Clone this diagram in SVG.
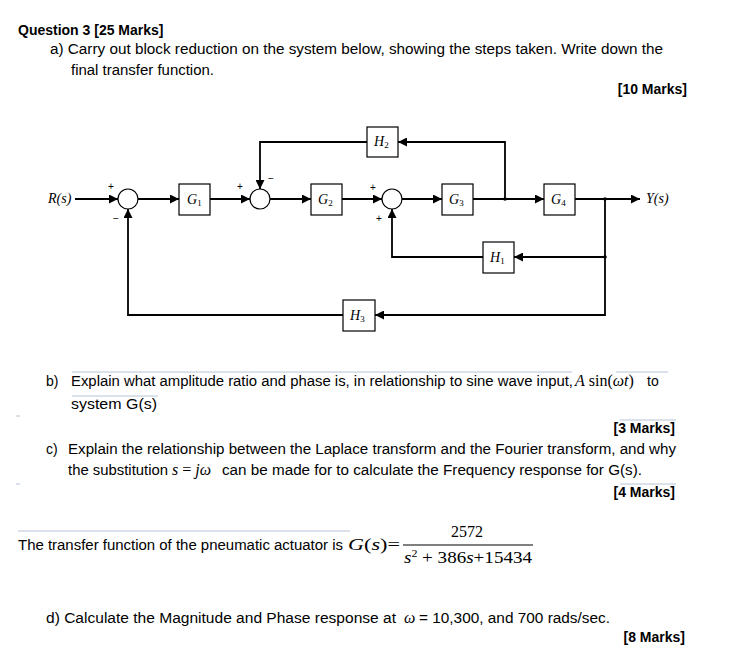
<svg xmlns="http://www.w3.org/2000/svg" width="734" height="661" viewBox="0 0 734 661">
<defs>
<marker id="ar" viewBox="0 0 10 10" refX="10" refY="5" markerWidth="9" markerHeight="9" markerUnits="userSpaceOnUse" orient="auto"><path d="M0,0 L10,5 L0,10 z" fill="#000"/></marker>
<style>
.t{font-family:"Liberation Sans",Arial,sans-serif;font-size:14px;fill:#000}
.b{font-weight:bold}
.m{font-family:"Liberation Serif","Times New Roman",serif;font-size:16px;fill:#000}
.bl{font-family:"Liberation Serif","Times New Roman",serif;font-style:italic;font-size:14px;fill:#000}
.bx{fill:#fff;stroke:#000;stroke-width:1.2}
.sm{fill:#fff;stroke:#000;stroke-width:1.2}
.w{fill:none;stroke:#000;stroke-width:1.8}
.sg{font-family:"Liberation Sans",Arial,sans-serif;font-size:10px;fill:#000}
.ol{stroke:#b8c4d6;stroke-width:1}
</style>
</defs>
<rect width="734" height="661" fill="#fff"/>
<text class="t b" x="18" y="35">Question 3 [25 Marks]</text>
<text class="t" x="50" y="54" textLength="613" lengthAdjust="spacingAndGlyphs">a)  Carry out block reduction on the system below,  showing the steps taken.  Write down the</text>
<text class="t" x="71" y="75" textLength="143" lengthAdjust="spacingAndGlyphs">final transfer function.</text>
<text class="t b" x="687" y="94" text-anchor="end">[10 Marks]</text>

<g id="connectors">
<line class="w" x1="75" y1="199" x2="118" y2="199" marker-end="url(#ar)"/>
<line class="w" x1="138" y1="199" x2="179" y2="199" marker-end="url(#ar)"/>
<line class="w" x1="210" y1="199" x2="250" y2="199" marker-end="url(#ar)"/>
<line class="w" x1="270" y1="199" x2="311" y2="199" marker-end="url(#ar)"/>
<line class="w" x1="342" y1="199" x2="382" y2="199" marker-end="url(#ar)"/>
<line class="w" x1="402" y1="199" x2="442" y2="199" marker-end="url(#ar)"/>
<line class="w" x1="473" y1="199" x2="544" y2="199" marker-end="url(#ar)"/>
<line class="w" x1="575" y1="199" x2="640" y2="199" marker-end="url(#ar)"/>
<polyline class="w" points="505,199 505,142 398,142" marker-end="url(#ar)"/>
<polyline class="w" points="367,142 260,142 260,189" marker-end="url(#ar)"/>
<polyline class="w" points="605,199 605,315 375,315" marker-end="url(#ar)"/>
<polyline class="w" points="343,315 128,315 128,209" marker-end="url(#ar)"/>
<polyline class="w" points="605,257 514,257" marker-end="url(#ar)"/>
<polyline class="w" points="483,257 392,257 392,209" marker-end="url(#ar)"/>
<circle cx="505" cy="199" r="1.8"/>
<circle cx="605" cy="199" r="1.8"/>
<circle cx="605" cy="257" r="1.8"/>
</g>

<g id="R"><text class="bl" x="48" y="203">R(s)</text></g>
<g id="Y"><text class="bl" x="646" y="203">Y(s)</text></g>
<g id="sum1"><circle class="sm" cx="128" cy="199" r="10"/><text class="sg" x="108" y="190">+</text><text class="sg" x="113" y="222">−</text></g>
<g id="sum2"><circle class="sm" cx="260" cy="199" r="10"/><text class="sg" x="237" y="190">+</text><text class="sg" x="268" y="182">−</text></g>
<g id="sum3"><circle class="sm" cx="392" cy="199" r="10"/><text class="sg" x="370" y="191">+</text><text class="sg" x="376" y="222">+</text></g>
<g id="G1"><rect class="bx" x="179" y="184" width="31" height="31"/><text class="bl" x="187" y="204">G<tspan font-size="9" dy="2" font-style="normal">1</tspan></text></g>
<g id="G2"><rect class="bx" x="311" y="184" width="31" height="31"/><text class="bl" x="318" y="204">G<tspan font-size="9" dy="2" font-style="normal">2</tspan></text></g>
<g id="G3"><rect class="bx" x="442" y="184" width="31" height="31"/><text class="bl" x="449" y="204">G<tspan font-size="9" dy="2" font-style="normal">3</tspan></text></g>
<g id="G4"><rect class="bx" x="544" y="184" width="31" height="31"/><text class="bl" x="551" y="204">G<tspan font-size="9" dy="2" font-style="normal">4</tspan></text></g>
<g id="H2"><rect class="bx" x="367" y="127" width="31" height="30"/><text class="bl" x="374" y="146">H<tspan font-size="9" dy="2" font-style="normal">2</tspan></text></g>
<g id="H1"><rect class="bx" x="483" y="242" width="31" height="31"/><text class="bl" x="490" y="262">H<tspan font-size="9" dy="2" font-style="normal">1</tspan></text></g>
<g id="H3"><rect class="bx" x="343" y="300" width="32" height="31"/><text class="bl" x="350" y="320">H<tspan font-size="9" dy="2" font-style="normal">3</tspan></text></g>

<line class="ol" x1="72" y1="372" x2="572" y2="372"/>
<line class="ol" x1="72" y1="396" x2="158" y2="396"/>
<line class="ol" x1="616" y1="372" x2="668" y2="372"/>
<line class="ol" x1="620" y1="420" x2="676" y2="420"/>
<line class="ol" x1="620" y1="484" x2="676" y2="484"/>
<line class="ol" x1="18" y1="531" x2="350" y2="531"/>
<line class="ol" x1="16" y1="416" x2="20" y2="416"/>
<line class="ol" x1="16" y1="484" x2="20" y2="484"/>
<text class="t" x="46" y="386">b)</text>
<text class="t" x="71" y="386" textLength="502" lengthAdjust="spacingAndGlyphs">Explain what amplitude ratio and phase is, in relationship to sine wave input,</text>
<text class="m" x="575" y="386"><tspan font-style="italic">A</tspan> sin(<tspan font-style="italic">ωt</tspan>)</text>
<text class="t" x="647" y="386">to</text>
<text class="t" x="71" y="409" textLength="86" lengthAdjust="spacingAndGlyphs">system G(s)</text>
<text class="t b" x="675" y="433" text-anchor="end">[3 Marks]</text>
<text class="t" x="46" y="454">c)</text>
<text class="t" x="68" y="454" textLength="608" lengthAdjust="spacingAndGlyphs">Explain the relationship between the Laplace transform and the Fourier transform, and why</text>
<text class="t" x="68" y="475" textLength="100" lengthAdjust="spacingAndGlyphs">the substitution</text>
<text class="m" x="172" y="475"><tspan font-style="italic">s</tspan> = <tspan font-style="italic">jω</tspan></text>
<text class="t" x="222" y="475" textLength="420" lengthAdjust="spacingAndGlyphs">can be made for to calculate the Frequency response for G(s).</text>
<text class="t b" x="675" y="497" text-anchor="end">[4 Marks]</text>

<text class="t" x="18" y="550" textLength="325" lengthAdjust="spacingAndGlyphs">The transfer function of the pneumatic actuator is</text>
<text class="m" x="348" y="550" font-size="17" textLength="52" lengthAdjust="spacingAndGlyphs"><tspan font-style="italic">G</tspan>(<tspan font-style="italic">s</tspan>)=</text>
<line x1="403" y1="545" x2="533" y2="545" stroke="#000" stroke-width="1"/>
<text class="m" x="467" y="537" text-anchor="middle">2572</text>
<text class="m" x="404" y="563" textLength="128" lengthAdjust="spacingAndGlyphs"><tspan font-style="italic">s</tspan><tspan font-size="10" dy="-6">2</tspan><tspan dy="6"> + 386</tspan><tspan font-style="italic">s</tspan>+15434</text>

<text class="t" x="46" y="623" textLength="350" lengthAdjust="spacingAndGlyphs">d)  Calculate the Magnitude and Phase  response at</text>
<text class="m" x="404" y="623" font-style="italic">ω</text>
<text class="t" x="419" y="623" textLength="191" lengthAdjust="spacingAndGlyphs">= 10,300, and 700 rads/sec.</text>
<text class="t b" x="685" y="642" text-anchor="end">[8 Marks]</text>
</svg>
